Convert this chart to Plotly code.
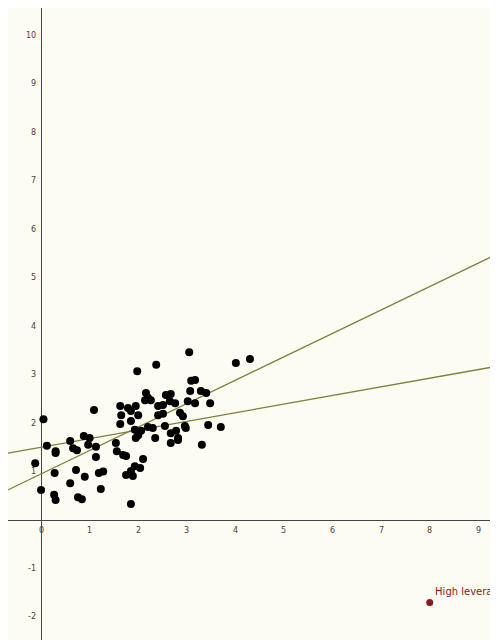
import plotly.graph_objects as go

xs = [0.05, -0.12, 0.12, 0.3, 0.3, 0.28, 0.0, 0.27, 0.3, 0.6, 0.66, 0.74, 0.72, 0.6,
      0.9, 0.76, 0.84, 0.88, 1.0, 0.97, 1.13, 1.13, 1.19, 1.28, 1.23, 1.09, 1.54, 1.56,
      1.69, 1.75, 1.63, 1.65, 1.63, 1.79, 1.85, 1.95, 2.0, 1.85, 1.93, 2.0, 2.06, 1.95,
      2.1, 1.93, 2.04, 1.85, 1.75, 1.89, 1.85, 1.98, 2.16, 2.2, 2.14, 2.26, 2.2, 2.3,
      2.35, 2.37, 2.41, 2.51, 2.41, 2.51, 2.57, 2.67, 2.65, 2.76, 2.55, 2.67, 2.78, 2.82,
      2.67, 2.82, 2.86, 2.92, 2.96, 2.98, 3.02, 3.17, 3.07, 3.09, 3.17, 3.29, 3.4, 3.05,
      3.48, 3.44, 3.31, 3.7, 4.01, 4.3]
ys = [2.08, 1.17, 1.53, 1.42, 1.38, 0.97, 0.62, 0.52, 0.41, 1.63, 1.48, 1.44, 1.03, 0.76,
      0.89, 0.47, 0.43, 1.73, 1.69, 1.55, 1.51, 1.3, 0.97, 1.0, 0.64, 2.27, 1.59, 1.42,
      1.34, 1.32, 2.35, 2.16, 1.98, 2.31, 2.25, 2.35, 2.16, 2.04, 1.86, 1.75, 1.84, 1.69,
      1.26, 1.11, 1.07, 1.01, 0.93, 0.91, 0.33, 3.07, 2.62, 2.52, 2.47, 2.47, 1.92, 1.9,
      1.69, 3.2, 2.35, 2.37, 2.16, 2.19, 2.58, 2.6, 2.45, 2.41, 1.94, 1.79, 1.84, 1.69,
      1.59, 1.65, 2.21, 2.14, 1.94, 1.9, 2.45, 2.41, 2.66, 2.87, 2.89, 2.66, 2.62, 3.46,
      2.41, 1.96, 1.55, 1.92, 3.24, 3.32]

# outlier
lev_x = [8]
lev_y = [-1.7]

# fitted lines: intercept, slope
fit_a = (0.95, 0.483)
fit_b = (1.50, 0.178)
line_x = [-0.7, 9.6]

# tick labels drawn along the axes through the origin
x_ticks = list(range(0, 10))
y_ticks = [t for t in range(-2, 11) if t != 0]

fig = go.Figure()
for a, b in [fit_a, fit_b]:
    fig.add_trace(go.Scatter(x=line_x, y=[a + b * v for v in line_x], mode="lines",
                             line=dict(color="#7f7f3a", width=1.3)))
fig.add_trace(go.Scatter(x=xs, y=ys, mode="markers",
                         marker=dict(color="black", size=8)))
fig.add_trace(go.Scatter(x=lev_x, y=lev_y, mode="markers+text", text=["High leverage"],
                         textposition="top right", cliponaxis=False,
                         textfont=dict(color="#8b1a1a", size=10),
                         marker=dict(color="#8b1a1a", size=7)))

for t in x_ticks:
    fig.add_annotation(x=t, y=0, text=str(t), showarrow=False, yshift=-10,
                       font=dict(size=8, color="#444"))
for t in y_ticks:
    fig.add_annotation(x=0, y=t, text=str(t), showarrow=False, xanchor="right",
                       xshift=-3, font=dict(size=8, color="#444"))

fig.update_xaxes(range=[-0.68, 9.57], showgrid=False, zeroline=True, zerolinecolor="#444",
                 zerolinewidth=1, showticklabels=False)
fig.update_yaxes(range=[-2.64, 10.56], showgrid=False, zeroline=True, zerolinecolor="#444",
                 zerolinewidth=1, showticklabels=False)
fig.update_layout(width=498, height=640, margin=dict(l=0, r=0, t=0, b=0),
                  showlegend=False, plot_bgcolor="#fcfcf2", paper_bgcolor="#fcfcf2",
                  font=dict(family="DejaVu Sans"))
fig.write_html("out.html")
